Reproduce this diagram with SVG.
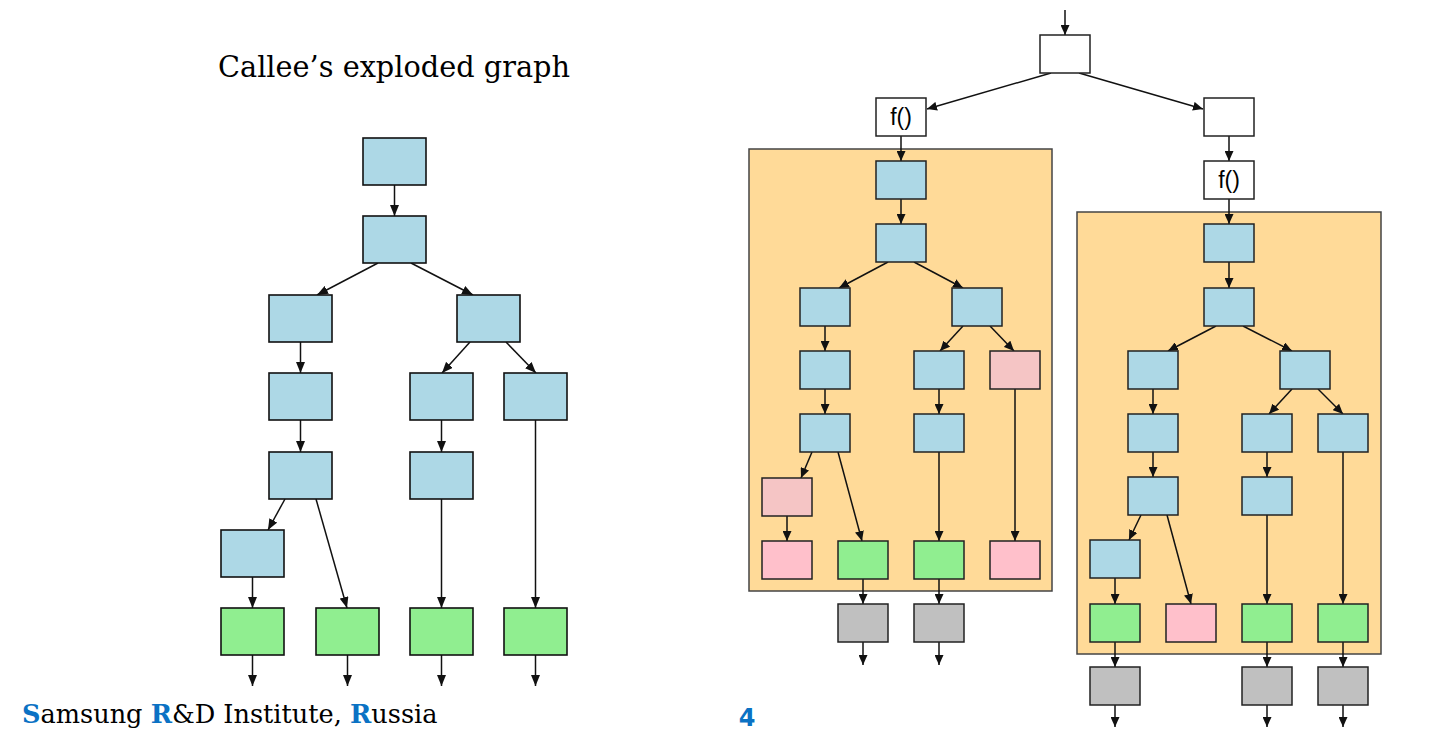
<svg xmlns="http://www.w3.org/2000/svg" width="1440" height="732" viewBox="0 0 1440 732">
<defs>
<style>
.n{stroke:#111;stroke-width:1.6}
.r{stroke:#222;stroke-width:1.5}
.b{fill:#ADD8E6}
.g{fill:#90EE90}
.p{fill:#FFC0CB}
.q{fill:#F5C5C5}
.s{fill:#C0C0C0}
.w{fill:#FFFFFF}
.cl{fill:#FFDA98;stroke:#444;stroke-width:1.5}
.e{fill:none;stroke:#111;stroke-width:1.5}
.eL{marker-end:url(#ahL)}
.eR{marker-end:url(#ahR)}
.lbl{font-family:"Liberation Sans",Arial,sans-serif;font-size:23px;fill:#000;text-anchor:middle}
</style>
<marker id="ahL" markerUnits="userSpaceOnUse" markerWidth="11" markerHeight="9" refX="11" refY="4.5" orient="auto"><path d="M0,0 L11,4.5 L0,9 z" fill="#111"/></marker>
<marker id="ahR" markerUnits="userSpaceOnUse" markerWidth="10" markerHeight="9" refX="10" refY="4.5" orient="auto"><path d="M0,0 L10,4.5 L0,9 z" fill="#111"/></marker>
</defs>
<rect width="1440" height="732" fill="#fff"/>
<text x="394" y="77" font-family="DejaVu Serif,serif" font-size="29" text-anchor="middle" fill="#000" textLength="352" lengthAdjust="spacingAndGlyphs">Callee’s exploded graph</text>

<g id="clusters">
<rect id="clusterL" class="cl" x="749" y="149" width="303" height="442"/>
<rect id="clusterR" class="cl" x="1077" y="212" width="304" height="442"/>
</g>

<g id="connectors">
<g class="e eL">
<path d="M394.5,185 V216"/>
<path d="M378,263 L317,295"/>
<path d="M411,263 L473,295"/>
<path d="M300.5,342 V373"/>
<path d="M470,342 L442,373"/>
<path d="M506,342 L536,373"/>
<path d="M300.5,420 V452"/>
<path d="M441.5,420 V452"/>
<path d="M285,499 L268,530"/>
<path d="M316,499 L347,608"/>
<path d="M441.5,499 V608"/>
<path d="M535.5,420 V608"/>
<path d="M252.5,577 V608"/>
<path d="M252.5,655 V686"/>
<path d="M347.5,655 V686"/>
<path d="M441.5,655 V686"/>
<path d="M535.5,655 V686"/>
</g>
<g class="e eR">
<path d="M1065,10 V35"/>
<path d="M1051,73 L927,109"/>
<path d="M1079,73 L1203,109"/>
<path d="M1229,136 V161"/>
<path d="M901,136 V161"/>
<path d="M1229,199 V224"/>
<path d="M901,199 V224"/>
<path d="M888,262 L839,288"/>
<path d="M914,262 L963,288"/>
<path d="M825,326 V351"/>
<path d="M963,326 L940,351"/>
<path d="M990,326 L1014,351"/>
<path d="M825,389 V414"/>
<path d="M939,389 V414"/>
<path d="M1015,389 V541"/>
<path d="M812,452 L801,478"/>
<path d="M838,452 L862,541"/>
<path d="M939,452 V541"/>
<path d="M787,516 V541"/>
<path d="M863,579 V604"/>
<path d="M939,579 V604"/>
<path d="M863,642 V665"/>
<path d="M939,642 V665"/>
<path d="M1229,262 V288"/>
<path d="M1216,326 L1168,351"/>
<path d="M1243,326 L1292,351"/>
<path d="M1153,389 V414"/>
<path d="M1292,389 L1269,414"/>
<path d="M1318,389 L1343,414"/>
<path d="M1153,452 V477"/>
<path d="M1267,452 V477"/>
<path d="M1343,452 V604"/>
<path d="M1141,515 L1129,540"/>
<path d="M1167,515 L1191,604"/>
<path d="M1267,515 V604"/>
<path d="M1115,578 V604"/>
<path d="M1115,642 V667"/>
<path d="M1267,642 V667"/>
<path d="M1343,642 V667"/>
<path d="M1115,705 V727"/>
<path d="M1267,705 V727"/>
<path d="M1343,705 V727"/>
</g>
</g>

<g id="left-graph">
<g id="lA"><rect class="n b" x="363" y="138" width="63" height="47"/></g>
<g id="lB"><rect class="n b" x="363" y="216" width="63" height="47"/></g>
<g id="lC"><rect class="n b" x="269" y="295" width="63" height="47"/></g>
<g id="lD"><rect class="n b" x="457" y="295" width="63" height="47"/></g>
<g id="lC1"><rect class="n b" x="269" y="373" width="63" height="47"/></g>
<g id="lD1"><rect class="n b" x="410" y="373" width="63" height="47"/></g>
<g id="lD2"><rect class="n b" x="504" y="373" width="63" height="47"/></g>
<g id="lC2"><rect class="n b" x="269" y="452" width="63" height="47"/></g>
<g id="lD1a"><rect class="n b" x="410" y="452" width="63" height="47"/></g>
<g id="lC3"><rect class="n b" x="221" y="530" width="63" height="47"/></g>
<g id="lG1"><rect class="n g" x="221" y="608" width="63" height="47"/></g>
<g id="lG2"><rect class="n g" x="316" y="608" width="63" height="47"/></g>
<g id="lG3"><rect class="n g" x="410" y="608" width="63" height="47"/></g>
<g id="lG4"><rect class="n g" x="504" y="608" width="63" height="47"/></g>
</g>

<g id="right-graph">
<g id="top"><rect class="r w" x="1040" y="35" width="50" height="38"/></g>
<g id="fL"><rect class="r w" x="876" y="98" width="50" height="38"/><text class="lbl" x="901" y="125">f()</text></g>
<g id="rB"><rect class="r w" x="1204" y="98" width="50" height="38"/></g>
<g id="fR"><rect class="r w" x="1204" y="161" width="50" height="38"/><text class="lbl" x="1229" y="188">f()</text></g>

<g id="L1"><rect class="r b" x="876" y="161" width="50" height="38"/></g>
<g id="L2"><rect class="r b" x="876" y="224" width="50" height="38"/></g>
<g id="L3a"><rect class="r b" x="800" y="288" width="50" height="38"/></g>
<g id="L3b"><rect class="r b" x="952" y="288" width="50" height="38"/></g>
<g id="L4a"><rect class="r b" x="800" y="351" width="50" height="38"/></g>
<g id="L4b"><rect class="r b" x="914" y="351" width="50" height="38"/></g>
<g id="L4c"><rect class="r q" x="990" y="351" width="50" height="38"/></g>
<g id="L5a"><rect class="r b" x="800" y="414" width="50" height="38"/></g>
<g id="L5b"><rect class="r b" x="914" y="414" width="50" height="38"/></g>
<g id="L6"><rect class="r q" x="762" y="478" width="50" height="38"/></g>
<g id="LP1"><rect class="r p" x="762" y="541" width="50" height="38"/></g>
<g id="LG1"><rect class="r g" x="838" y="541" width="50" height="38"/></g>
<g id="LG2"><rect class="r g" x="914" y="541" width="50" height="38"/></g>
<g id="LP2"><rect class="r p" x="990" y="541" width="50" height="38"/></g>
<g id="LS1"><rect class="r s" x="838" y="604" width="50" height="38"/></g>
<g id="LS2"><rect class="r s" x="914" y="604" width="50" height="38"/></g>

<g id="R1"><rect class="r b" x="1204" y="224" width="50" height="38"/></g>
<g id="R2"><rect class="r b" x="1204" y="288" width="50" height="38"/></g>
<g id="R3a"><rect class="r b" x="1128" y="351" width="50" height="38"/></g>
<g id="R3b"><rect class="r b" x="1280" y="351" width="50" height="38"/></g>
<g id="R4a"><rect class="r b" x="1128" y="414" width="50" height="38"/></g>
<g id="R4b"><rect class="r b" x="1242" y="414" width="50" height="38"/></g>
<g id="R4c"><rect class="r b" x="1318" y="414" width="50" height="38"/></g>
<g id="R5a"><rect class="r b" x="1128" y="477" width="50" height="38"/></g>
<g id="R5b"><rect class="r b" x="1242" y="477" width="50" height="38"/></g>
<g id="R6"><rect class="r b" x="1090" y="540" width="50" height="38"/></g>
<g id="RG1"><rect class="r g" x="1090" y="604" width="50" height="38"/></g>
<g id="RP1"><rect class="r p" x="1166" y="604" width="50" height="38"/></g>
<g id="RG2"><rect class="r g" x="1242" y="604" width="50" height="38"/></g>
<g id="RG3"><rect class="r g" x="1318" y="604" width="50" height="38"/></g>
<g id="RS1"><rect class="r s" x="1090" y="667" width="50" height="38"/></g>
<g id="RS2"><rect class="r s" x="1242" y="667" width="50" height="38"/></g>
<g id="RS3"><rect class="r s" x="1318" y="667" width="50" height="38"/></g>
</g>

<text x="22" y="723" font-family="DejaVu Serif,serif" font-size="25.6" fill="#000"><tspan fill="#0B72C4" font-weight="bold">S</tspan>amsung <tspan fill="#0B72C4" font-weight="bold">R</tspan>&amp;D Institute, <tspan fill="#0B72C4" font-weight="bold">R</tspan>ussia</text>
<text x="747" y="726" font-family="DejaVu Sans,sans-serif" font-size="24" font-weight="bold" fill="#0B72C4" text-anchor="middle">4</text>
</svg>
